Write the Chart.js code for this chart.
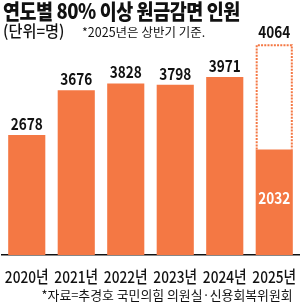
<!DOCTYPE html>
<html>
<head>
<meta charset="utf-8">
<script src="https://cdn.jsdelivr.net/npm/chart.js@4"></script>
<style>
  html, body { margin: 0; padding: 0; background: #fff; }
  #wrap { position: relative; width: 300px; height: 307px; overflow: hidden; font-family: "Noto Sans CJK KR", sans-serif; }
  #c { position: absolute; left: 0; top: 0; }
  .txt { position: absolute; white-space: nowrap; color: #111; transform-origin: left top; }
  #title { left: 3px; top: -5px; font-size: 21px; font-weight: 900; transform: scaleX(0.88); letter-spacing: -0.5px; }
  #unit { left: 3px; top: 18px; font-size: 16px; font-weight: 500; transform: scaleX(0.95); }
  #note { left: 82px; top: 22px; font-size: 12.5px; transform: scaleX(1.0); }
  #src { right: 7px; top: 285px; font-size: 13px; transform-origin: right top; transform: scaleX(0.99); }
</style>
</head>
<body>
<div id="wrap">
  <canvas id="c" width="300" height="307"></canvas>
  <div class="txt" id="title">연도별 80% 이상 원금감면 인원</div>
  <div class="txt" id="unit">(단위=명)</div>
  <div class="txt" id="note">*2025년은 상반기 기준.</div>
  <div class="txt" id="src">*자료=추경호 국민의힘 의원실·신용회복위원회</div>
</div>
<script>
// 연도별 인원 (명)
const years = ['2020년', '2021년', '2022년', '2023년', '2024년', '2025년'];
const counts = [2678, 3676, 3828, 3798, 3971];   // 2020~2024
const half2025 = 2032;                            // 2025 상반기
const full2025 = 4064;                            // 2025 연간 환산 (점선)

const ORANGE = '#f47844';

// 2025년만 따로 (점선 박스 + 상반기 막대)
const pad = v => years.map((_, i) => i === years.length - 1 ? v : null);

// 글자를 좁게 그리는 함수
function drawText(ctx, text, x, y, font, color, sx, align) {
  ctx.save();
  ctx.font = font;
  ctx.fillStyle = color;
  ctx.textAlign = align || 'center';
  ctx.textBaseline = 'alphabetic';
  ctx.translate(x, y);
  ctx.scale(sx, 1);
  ctx.fillText(text, 0, 0);
  ctx.restore();
}

const labelPlugin = {
  id: 'labels',
  afterDatasetsDraw(chart) {
    const ctx = chart.ctx;
    const valFont = 'bold 16px "Noto Sans CJK KR"';
    // 2020~2024 값
    chart.getDatasetMeta(0).data.forEach((el, i) => {
      if (counts[i] == null) return;
      drawText(ctx, String(counts[i]), el.x, el.y - 5, valFont, '#111', 0.85);
    });
    // 2025 점선 박스
    const boxEl = chart.getDatasetMeta(1).data[years.length - 1];
    const halfEl = chart.getDatasetMeta(2).data[years.length - 1];
    const l = boxEl.x - boxEl.width / 2 + 1, r = boxEl.x + boxEl.width / 2 - 1;
    ctx.save();
    ctx.strokeStyle = ORANGE;
    ctx.lineWidth = 2;
    ctx.setLineDash([2, 1.2]);
    ctx.beginPath();
    ctx.moveTo(l, halfEl.y);
    ctx.lineTo(l, boxEl.y + 1);
    ctx.lineTo(r, boxEl.y + 1);
    ctx.lineTo(r, halfEl.y);
    ctx.stroke();
    ctx.restore();
    drawText(ctx, String(full2025), boxEl.x, boxEl.y - 6, valFont, '#111', 0.85);
    drawText(ctx, String(half2025), halfEl.x, halfEl.y + 54, valFont, '#fff', 0.85);
    // x축 연도
    const xs = chart.scales.x;
    years.forEach((y, i) => {
      drawText(ctx, y, xs.getPixelForValue(i), 283, '500 16.5px "Noto Sans CJK KR"', '#111', 0.83);
    });
  }
};

new Chart(document.getElementById('c'), {
  type: 'bar',
  data: {
    labels: years,
    datasets: [
      { data: counts.concat([null]), yAxisID: 'y', backgroundColor: ORANGE, grouped: false },
      { data: pad(full2025), yAxisID: 'y2', backgroundColor: 'rgba(0,0,0,0)', grouped: false },
      { data: pad(half2025), yAxisID: 'y2', backgroundColor: ORANGE, grouped: false }
    ]
  },
  options: {
    responsive: false,
    animation: false,
    layout: { padding: { left: 2, right: 1, top: 0, bottom: 44 } },
    plugins: { legend: { display: false }, tooltip: { enabled: false } },
    datasets: { bar: { barPercentage: 0.75, categoryPercentage: 1 } },
    scales: {
      x: {
        grid: { display: false },
        ticks: { display: false },
        border: { display: true, color: '#111', width: 1.5 }
      },
      y: { display: false, min: 0, max: 5690 },
      y2: { display: false, min: 0, max: 4915 }
    }
  },
  plugins: [labelPlugin]
});
</script>
</body>
</html>
